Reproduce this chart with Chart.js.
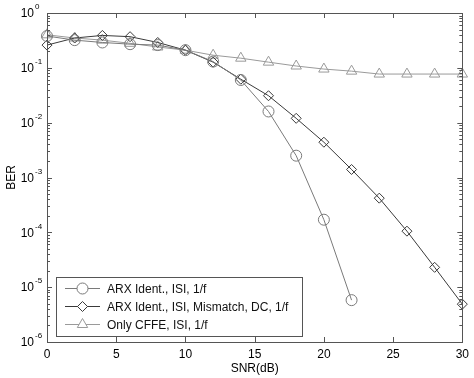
<!DOCTYPE html>
<html>
<head>
<meta charset="utf-8">
<script src="https://cdn.jsdelivr.net/npm/chart.js@4/dist/chart.umd.min.js"></script>
<style>
  html, body { margin: 0; padding: 0; background: #fff; }
  #wrap { width: 474px; height: 378px; }
</style>
</head>
<body>
<div id="wrap"><canvas id="berChart" width="474" height="378"></canvas></div>
<script>
// SNR values (dB) on the x axis
const snr = [0, 2, 4, 6, 8, 10, 12, 14, 16, 18, 20, 22, 24, 26, 28, 30];

// BER curves
const berArxIsi = [0.38, 0.32, 0.29, 0.27, 0.26, 0.21, 0.13, 0.06, 0.016, 0.0025, 1.7e-4, 5.8e-6];
const berArxMismatch = [0.26, 0.35, 0.39, 0.37, 0.29, 0.21, 0.127, 0.062, 0.031, 0.012, 0.0044, 0.0014, 4.2e-4, 1.05e-4, 2.3e-5, 4.9e-6];
const berCffe = [0.40, 0.35, 0.32, 0.28, 0.24, 0.21, 0.17, 0.15, 0.127, 0.108, 0.095, 0.087, 0.077, 0.077, 0.077, 0.077];

const seriesLabels = ['ARX Ident., ISI, 1/f', 'ARX Ident., ISI, Mismatch, DC, 1/f', 'Only CFFE, ISI, 1/f'];
const xTicks = [0, 5, 10, 15, 20, 25, 30];
const yExponents = [0, -1, -2, -3, -4, -5, -6];

const FONT = 'Liberation Sans, Arial, Helvetica, sans-serif';
const AXIS_COLOR = '#555';

function toPoints(ys) {
    return ys.map((y, i) => ({ x: snr[i], y: y }));
}

// Frame, inside tick marks and 10^n labels (MATLAB look)
const matlabAxes = {
    id: 'matlabAxes',
    afterDraw(chart) {
        const ctx = chart.ctx;
        const area = chart.chartArea;
        const xs = chart.scales.x;
        const ys = chart.scales.y;
        ctx.save();
        ctx.strokeStyle = AXIS_COLOR;
        ctx.lineWidth = 1;
        ctx.strokeRect(Math.round(area.left) + 0.5, Math.round(area.top) + 0.5,
            Math.round(area.right - area.left), Math.round(area.bottom - area.top));

        ctx.beginPath();
        xTicks.forEach(v => {
            const px = Math.round(xs.getPixelForValue(v)) + 0.5;
            ctx.moveTo(px, area.bottom); ctx.lineTo(px, area.bottom - 5);
            ctx.moveTo(px, area.top); ctx.lineTo(px, area.top + 5);
        });
        yExponents.forEach(e => {
            for (let k = 1; k <= 9; k++) {
                const v = k * Math.pow(10, e);
                if (v > 1.0001) continue;
                const py = Math.round(ys.getPixelForValue(v)) + 0.5;
                const len = k === 1 ? 5 : 3;
                ctx.moveTo(area.left, py); ctx.lineTo(area.left + len, py);
                ctx.moveTo(area.right, py); ctx.lineTo(area.right - len, py);
            }
        });
        ctx.stroke();

        // y tick labels: 10 with superscript exponent
        ctx.fillStyle = '#000';
        ctx.textBaseline = 'middle';
        yExponents.forEach(e => {
            const py = ys.getPixelForValue(Math.pow(10, e));
            ctx.font = '12px ' + FONT;
            ctx.textAlign = 'right';
            ctx.fillText('10', 34, py + 1);
            ctx.font = '8px ' + FONT;
            ctx.textAlign = 'left';
            ctx.fillText(String(e), 35, py - 6);
        });
        ctx.restore();
    }
};

// Legend box in the lower left of the plot
const boxLegend = {
    id: 'boxLegend',
    afterDraw(chart) {
        const ctx = chart.ctx;
        const left = 56, top = 277, width = 246, height = 59;
        ctx.save();
        ctx.fillStyle = '#fff';
        ctx.fillRect(left, top, width, height);
        ctx.strokeStyle = AXIS_COLOR;
        ctx.lineWidth = 1;
        ctx.strokeRect(left + 0.5, top + 0.5, width, height);
        const rowY = [288, 306, 324];
        chart.data.datasets.forEach((ds, i) => {
            const y = rowY[i] + 0.5;
            ctx.strokeStyle = ds.borderColor;
            ctx.lineWidth = 1;
            ctx.beginPath();
            ctx.moveTo(65, y); ctx.lineTo(100, y);
            ctx.stroke();
            ctx.fillStyle = '#fff';
            Chart.helpers.drawPoint(ctx, {
                pointStyle: ds.pointStyle,
                radius: ds.pointRadius,
                borderWidth: 1,
                rotation: 0
            }, 82.5, y);
            ctx.fillStyle = '#111';
            ctx.font = '12px ' + FONT;
            ctx.textAlign = 'left';
            ctx.textBaseline = 'middle';
            ctx.fillText(ds.label, 107, y + 1);
        });
        ctx.restore();
    }
};

const ctx = document.getElementById('berChart').getContext('2d');

const berChart = new Chart(ctx, {
    type: 'line',
    data: {
        datasets: [{
            label: seriesLabels[0],
            data: toPoints(berArxIsi),
            borderColor: '#7a7a7a',
            pointStyle: 'circle',
            pointRadius: 5.5
        }, {
            label: seriesLabels[1],
            data: toPoints(berArxMismatch),
            borderColor: '#3a3a3a',
            pointStyle: 'rectRot',
            pointRadius: 5
        }, {
            label: seriesLabels[2],
            data: toPoints(berCffe),
            borderColor: '#9a9a9a',
            pointStyle: 'triangle',
            pointRadius: 6
        }].map(ds => ({
            ...ds,
            borderWidth: 1,
            pointBorderWidth: 1,
            pointBorderColor: ds.borderColor,
            pointBackgroundColor: 'rgba(0,0,0,0)',
            tension: 0,
            clip: false
        }))
    },
    options: {
        responsive: false,
        animation: false,
        events: [],
        layout: { padding: { top: 13, right: 8, left: 0, bottom: 0 } },
        plugins: {
            legend: { display: false },
            tooltip: { enabled: false }
        },
        scales: {
            x: {
                type: 'linear',
                min: 0,
                max: 30,
                afterBuildTicks: scale => { scale.ticks = xTicks.map(v => ({ value: v })); },
                afterFit: scale => { scale.height = 36; },
                grid: { display: false, drawTicks: false },
                border: { display: false },
                ticks: {
                    color: '#000',
                    font: { family: FONT, size: 12 },
                    padding: 5,
                    maxRotation: 0
                },
                title: {
                    display: true,
                    text: 'SNR(dB)',
                    color: '#000',
                    font: { family: FONT, size: 12 },
                    padding: { top: 0, bottom: 2 }
                }
            },
            y: {
                type: 'logarithmic',
                min: 1e-6,
                max: 1,
                afterFit: scale => { scale.width = 47; },
                grid: { display: false, drawTicks: false },
                border: { display: false },
                ticks: { display: false },
                title: {
                    display: true,
                    text: 'BER',
                    color: '#000',
                    font: { family: FONT, size: 12 },
                    padding: { top: 4, bottom: 0 }
                }
            }
        }
    },
    plugins: [matlabAxes, boxLegend]
});
</script>
</body>
</html>
